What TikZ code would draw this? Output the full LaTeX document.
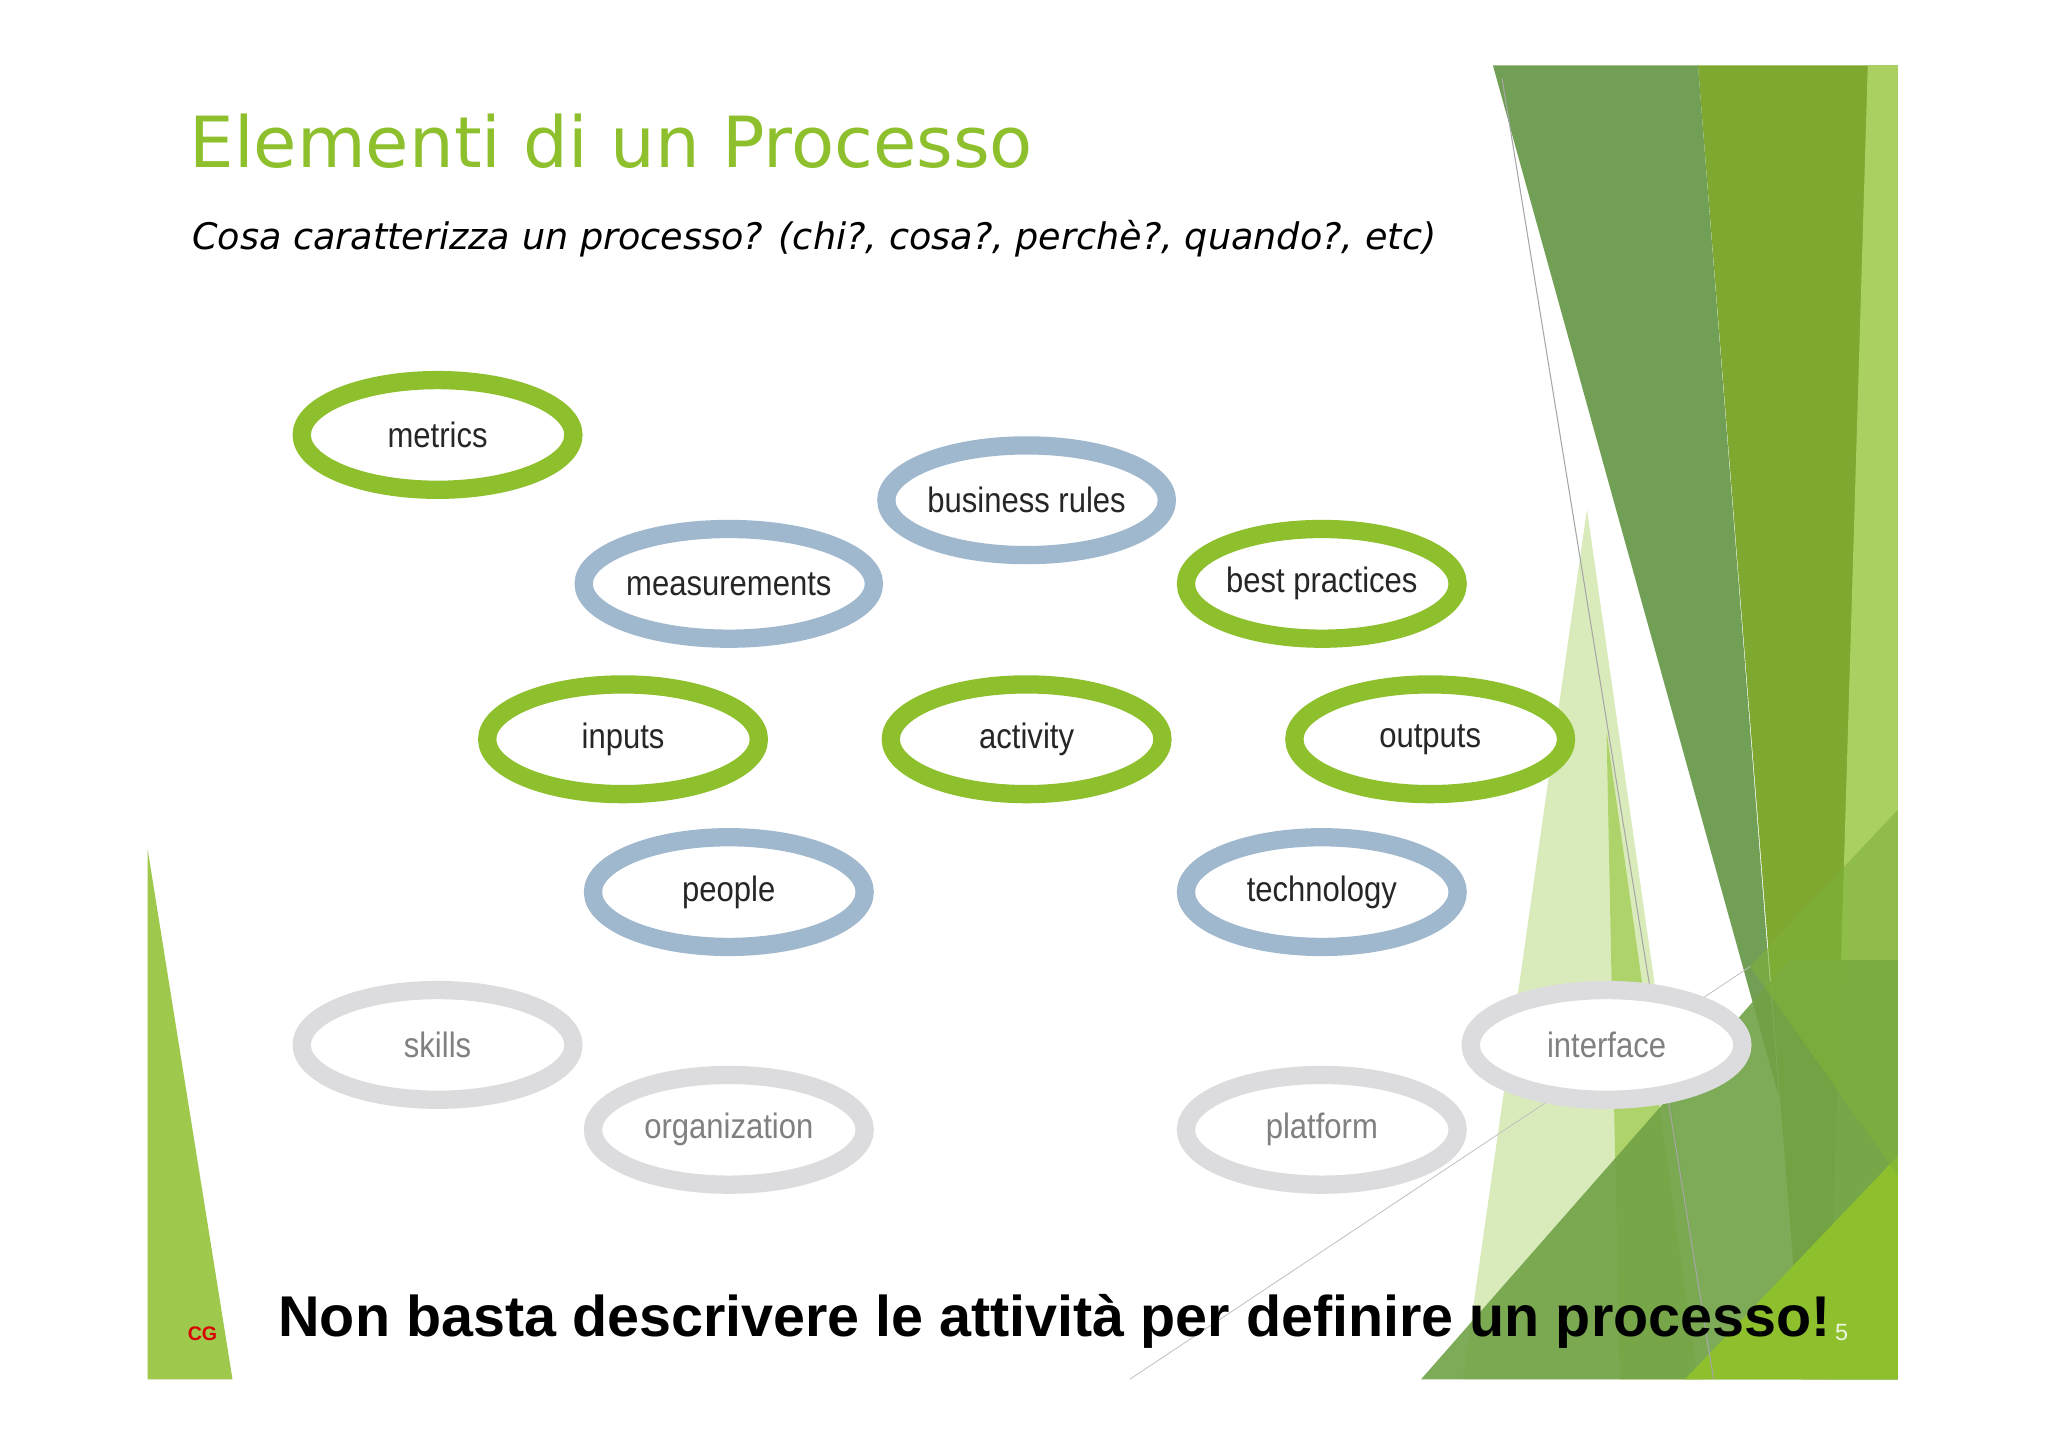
\documentclass[tikz,border=0pt]{standalone}
\usepackage{fontspec}
\setmainfont{Liberation Sans}
\newfontfamily\nodefont[FakeStretch=0.88]{Liberation Sans}
\newfontfamily\titlefont{DejaVu Sans}
\usetikzlibrary{shapes.geometric}
\definecolor{gr}{HTML}{8DC02C}
\definecolor{bl}{HTML}{A0B8CE}
\definecolor{gy}{HTML}{DCDCDE}
\definecolor{dkg}{HTML}{6A9A4C}
\pgfdeclarelayer{edges}
\pgfsetlayers{edges,main}
\begin{document}
\begin{tikzpicture}[x=1pt,y=-1pt,
  el/.style={ellipse,line width=14pt,fill=white,minimum width=208pt,minimum height=84pt,inner sep=0pt,font=\nodefont\fontsize{27}{30}\selectfont,text=black!85},
  ge/.style={el,draw=gr},
  be/.style={el,draw=bl},
  ye/.style={el,draw=gy,text=black!50},
  conn/.style={draw=black!60,line width=1.3pt}]
\useasboundingbox (0,0) rectangle (1568,1108);
\fill[white] (0,0) rectangle (1568,1108);
% background decoration
\fill[gr!85!black!95] (1300,50) -- (1453,50) -- (1453,1056) -- (1380,1056) -- cycle;
\fill[gr!75!white] (1430,50) -- (1453,50) -- (1453,1056) -- (1400,1056) -- cycle;
\fill[dkg,opacity=0.95] (1143,50) -- (1300,50) -- (1362,840) -- cycle;
\fill[gr!40!white,opacity=0.8] (1215,390) -- (1310,1056) -- (1120,1056) -- cycle;
\fill[gr!70!white] (1230,560) -- (1300,1056) -- (1240,1056) -- cycle;
\fill[dkg!80!gr,opacity=0.9] (1088,1056) -- (1370,735) -- (1453,735) -- (1453,1056) -- cycle;
\fill[gr] (1290,1056) -- (1453,885) -- (1453,1056) -- cycle;
\fill[gr!60!dkg,opacity=0.6] (1340,740) -- (1453,620) -- (1453,900) -- cycle;
\draw[black!35,line width=0.8pt] (1150,60) -- (1312,1056);
\draw[black!25,line width=0.6pt] (865,1056) -- (1340,740);
\fill[gr!85!white] (113,650) -- (113,1056) -- (178,1056) -- cycle;
% texts
\node[anchor=base west,inner sep=0pt,text=gr,font=\titlefont\fontsize{54}{60}\selectfont] (title) at (145,128) {Elementi di un Processo};
\node[anchor=base west,inner sep=0pt,font=\titlefont\itshape\fontsize{28}{32}\selectfont] (sub) at (147,191) {Cosa caratterizza un processo? (chi?, cosa?, perchè?, quando?, etc)};
% nodes
\node[ge] (metrics) at (335,333) {metrics};
\node[be] (rules) at (786,383) {business rules};
\node[be] (meas) at (558,447) {measurements};
\node[ge] (best) at (1012,447) {best practices};
\node[ge] (inputs) at (477,566) {inputs};
\node[ge] (act) at (786,566) {activity};
\node[ge] (outputs) at (1095,566) {outputs};
\node[be] (people) at (558,683) {people};
\node[be] (tech) at (1012,683) {technology};
\node[ye] (skills) at (335,800) {skills};
\node[ye] (interface) at (1230,800) {interface};
\node[ye] (org) at (558,865) {organization};
\node[ye] (plat) at (1012,865) {platform};
\begin{pgfonlayer}{edges}
\draw[conn] (metrics) -- (meas);
\draw[conn] (meas) -- (act);
\draw[conn] (rules) -- (act);
\draw[conn] (best) -- (act);
\draw[conn] (inputs) -- (act);
\draw[conn] (outputs) -- (act);
\draw[conn] (people) -- (act);
\draw[conn] (tech) -- (act);
\draw[conn] (people) -- (skills);
\draw[conn] (people) -- (org);
\draw[conn] (tech) -- (plat);
\draw[conn] (tech) -- (interface);
\end{pgfonlayer}
\node[anchor=base west,inner sep=0pt,font=\bfseries\fontsize{44}{50}\selectfont] (msg) at (213,1023) {Non basta descrivere le attività per definire un processo!};
\node[anchor=base,inner sep=0pt,text=red!85!black,font=\bfseries\fontsize{15}{18}\selectfont] (cg) at (155,1026) {CG};
\node[anchor=base,inner sep=0pt,text=white!85!gr,font=\fontsize{18}{20}\selectfont] (num) at (1410,1026) {5};
\end{tikzpicture}
\end{document}
